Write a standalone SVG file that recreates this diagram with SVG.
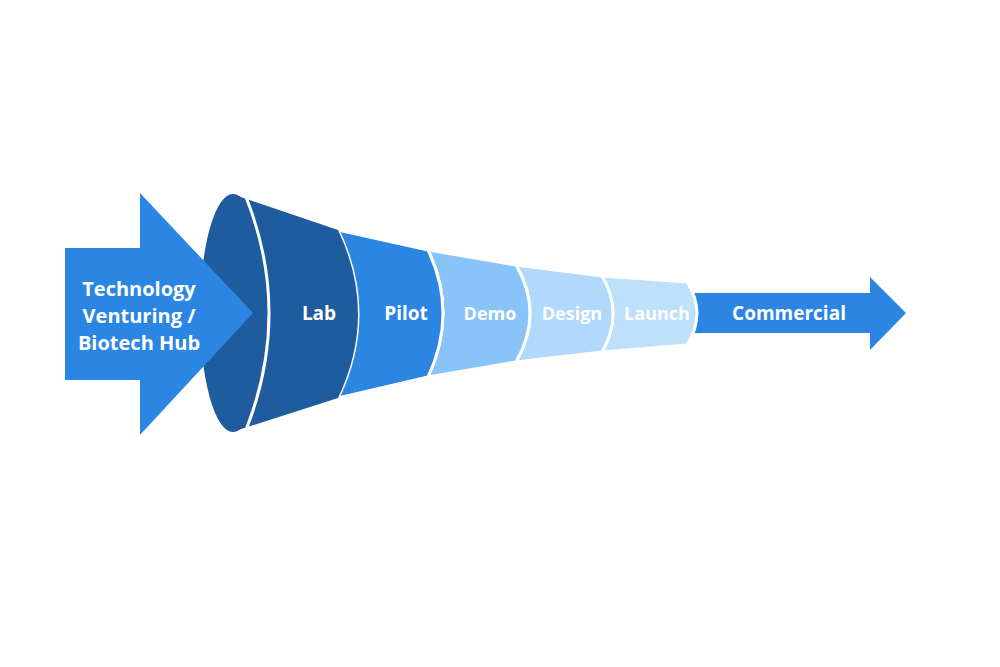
<svg xmlns="http://www.w3.org/2000/svg" width="1000" height="667" viewBox="0 0 1000 667">
<style>
.t{font-family:"Open Sans","Liberation Sans",sans-serif;font-weight:700;fill:#fff;text-anchor:middle}
.s{stroke:#fff;stroke-width:3}
</style>
<rect width="1000" height="667" fill="#fff"/>
<g id="commercial">
<path d="M680,293 H870 V277 L906,313 L870,350 V333 H680 Z" fill="#2b86e3"/>
<text class="t" x="789" y="320" font-size="19">Commercial</text>
</g>
<g id="launch">
<path d="M602,276 L687,282 Q707,313 687,345 L602,352 Q624,314 602,276 Z" fill="#bde0fb" class="s"/>
<text class="t" x="657" y="320" font-size="18">Launch</text>
</g>
<g id="design">
<path d="M516,265 L602,276 Q624,314 602,352 L516,362 Q544,313 516,265 Z" fill="#b0d9fb" class="s"/>
<text class="t" x="572" y="320" font-size="18">Design</text>
</g>
<g id="demo">
<path d="M428,250 L516,265 Q544,313 516,362 L428,377 Q458,313 428,250 Z" fill="#88c4f7" class="s"/>
<text class="t" x="490" y="320" font-size="18">Demo</text>
</g>
<g id="pilot">
<path d="M338,230 L428,250 Q458,313 428,377 L338,398 Q378,314 338,230 Z" fill="#2b86e3" class="s"/>
<text class="t" x="406" y="320" font-size="19">Pilot</text>
</g>
<g id="lab">
<path d="M232,194 L338,230 Q378,314 338,398 L232,432 Z" fill="#1f5c9e"/>
<ellipse cx="233" cy="313" rx="33" ry="119" fill="#1f5c9e"/>
<path d="M246,197 Q292,313 246,430" fill="none" class="s"/>
<text class="t" x="319" y="320" font-size="19">Lab</text>
</g>
<g id="hub">
<path d="M65,248 H140 V193 L253,313 L140,435 V380 H65 Z" fill="#2b86e3"/>
<text class="t" font-size="20"><tspan x="139" y="296">Technology</tspan><tspan x="139" y="323">Venturing /</tspan><tspan x="139" y="350">Biotech Hub</tspan></text>
</g>
</svg>
